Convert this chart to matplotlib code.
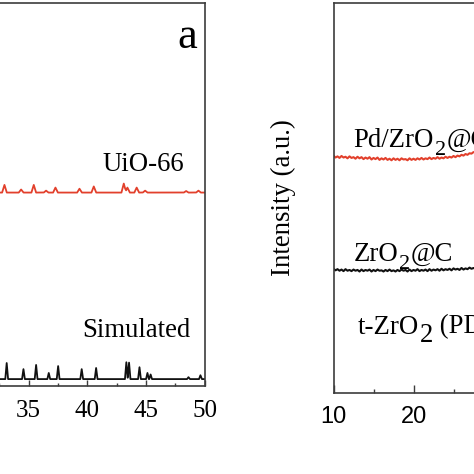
import numpy as np
import matplotlib
matplotlib.use('Agg')
import matplotlib.pyplot as plt
import matplotlib.transforms as mtransforms
from matplotlib.ticker import MultipleLocator

plt.rcParams['font.family'] = ['Liberation Serif', 'DejaVu Serif']
plt.rcParams['mathtext.fontset'] = 'custom'
plt.rcParams['mathtext.rm'] = 'Liberation Serif'
plt.rcParams['mathtext.it'] = 'Liberation Serif:italic'
plt.rcParams['mathtext.default'] = 'regular'

# ---------------- data ----------------
# panel a: peak positions (2theta, deg) and heights (a.u.)
sim_peaks = [33.12, 34.55, 35.63, 36.71, 37.51, 39.52, 40.75, 43.33, 43.56,
             44.45, 45.13, 45.40, 48.63, 49.65]
sim_heights = [4.2, 2.6, 3.7, 1.6, 3.4, 2.6, 2.9, 4.4, 4.3, 3.1, 1.6, 1.2, 0.5, 1.0]
sim_base = 1.8

uio_peaks = [32.93, 34.35, 35.43, 36.48, 37.28, 39.33, 40.55, 43.11, 43.42,
             44.21, 44.93, 48.43, 49.48]
uio_heights = [2.0, 0.8, 2.0, 0.5, 1.3, 1.0, 1.6, 2.35, 1.3, 1.3, 0.5, 0.4, 0.5]
uio_base = 50.5

# panel b: measured traces, 0.25 deg steps from 10 deg
b_start, b_step = 10.0, 0.25
pd_zro2_c = [60.9, 60.4, 60.7, 60.3, 60.8, 60.4, 60.6, 60.2, 60.7, 60.3,
             60.5, 60.1, 60.6, 60.2, 60.5, 60.0, 60.4, 60.1, 60.5, 59.9,
             60.3, 60.0, 60.4, 59.8, 60.2, 59.9, 60.3, 59.8, 60.1, 59.7,
             60.2, 59.8, 60.1, 59.7, 60.2, 59.9, 60.0, 59.7, 60.2, 59.8,
             60.1, 59.8, 60.2, 59.9, 60.3, 59.9, 60.2, 60.0, 60.4, 60.0,
             60.3, 60.1, 60.5, 60.1, 60.4, 60.2, 60.6, 60.3, 60.6, 60.4,
             60.8, 60.5, 60.9, 60.7, 61.1, 60.9, 61.3, 61.1, 61.5, 61.4,
             61.8, 61.7, 62.1, 62.1, 62.6]
zro2_c = [31.9, 31.5, 31.8, 31.4, 31.7, 31.3, 31.8, 31.4, 31.6, 31.3,
          31.7, 31.4, 31.6, 31.2, 31.7, 31.3, 31.6, 31.4, 31.7, 31.2,
          31.6, 31.3, 31.7, 31.4, 31.5, 31.2, 31.6, 31.3, 31.7, 31.3,
          31.5, 31.2, 31.6, 31.3, 31.7, 31.4, 31.6, 31.2, 31.7, 31.3,
          31.6, 31.4, 31.8, 31.3, 31.6, 31.4, 31.7, 31.3, 31.8, 31.4,
          31.7, 31.5, 31.8, 31.4, 31.9, 31.5, 31.8, 31.6, 31.9, 31.5,
          32.0, 31.7, 31.9, 31.6, 32.1, 31.7, 32.0, 31.8, 32.2, 31.9,
          32.1, 31.9, 32.3, 32.0, 32.4]

RED = '#e2402c'
BLACK = '#111111'
SPINE = '#3c3c3c'


def stick_pattern(peaks, heights, base, width, lo=30.0, hi=50.0):
    x = np.arange(lo, hi + 0.005, 0.01)
    y = np.full_like(x, base)
    for p, h in zip(peaks, heights):
        y += h * np.clip(1 - np.abs(x - p) / width, 0, None)
    return x, y


fig = plt.figure(figsize=(4.74, 4.74), dpi=100)
ident = mtransforms.IdentityTransform()


def chain_text(ax, xy, pieces):
    """Draw text pieces (string, fontsize, dy_pixels) one after another."""
    x, y = ax.transData.transform(xy)
    for s, size, dy in pieces:
        t = fig.text(x, y + dy, s, fontsize=size, ha='left', va='baseline',
                     transform=ident)
        fig.canvas.draw()
        x = t.get_window_extent().x1 + 0.5


# ---------------- panel a ----------------
ax1 = fig.add_axes([-0.6812, 0.1857, 1.1127, 0.8080])
xs, ys = stick_pattern(sim_peaks, sim_heights, sim_base, 0.12)
ax1.plot(xs, ys, color=BLACK, lw=1.3)
xu, yu = stick_pattern(uio_peaks, uio_heights, uio_base, 0.2)
ax1.plot(xu, yu, color=RED, lw=1.3)
ax1.set_xlim(5, 50)
ax1.set_ylim(0, 100)
ax1.set_yticks([])
ax1.xaxis.set_major_locator(MultipleLocator(5))
ax1.xaxis.set_minor_locator(MultipleLocator(2.5))
ax1.tick_params(axis='x', which='major', direction='in', length=4.3, width=1.0,
                labelsize=18, pad=10, color=SPINE)
ax1.tick_params(axis='x', which='minor', direction='in', length=2.4, width=1.0,
                color=SPINE)
for s in ax1.spines.values():
    s.set_color(SPINE)
    s.set_linewidth(1.2)
ax1.text(41.29, 56.2, 'UiO-66', fontsize=19.3, ha='left', va='baseline')
ax1.text(39.58, 12.8, 'Simulated', fontsize=19.3, ha='left', va='baseline')
ax1.text(48.5, 88.3, 'a', fontsize=32, ha='center', va='baseline')

# ---------------- panel b ----------------
ax2 = fig.add_axes([0.7036, 0.1703, 1.1814, 0.8234])
xb = b_start + b_step * np.arange(len(pd_zro2_c))
ax2.plot(xb, pd_zro2_c, color=RED, lw=1.5)
xb2 = b_start + b_step * np.arange(len(zro2_c))
ax2.plot(xb2, zro2_c, color=BLACK, lw=1.5)
ax2.set_xlim(10, 80)
ax2.set_ylim(0, 100)
ax2.set_yticks([])
ax2.xaxis.set_major_locator(MultipleLocator(10))
ax2.xaxis.set_minor_locator(MultipleLocator(5))
ax2.tick_params(axis='x', which='major', direction='in', length=5.8, width=1.0,
                labelsize=17, pad=9.5, color=SPINE)
ax2.tick_params(axis='x', which='minor', direction='in', length=2.9, width=1.0,
                color=SPINE)
for lab in ax2.get_xticklabels():
    lab.set_family(['Liberation Sans', 'DejaVu Sans'])
for s in ax2.spines.values():
    s.set_color(SPINE)
    s.set_linewidth(1.2)

fig.canvas.draw()
chain_text(ax2, (12.53, 63.1), [('Pd/ZrO', 19.3, 0), ('2', 16, -8), ('@C', 19.3, 0)])
chain_text(ax2, (12.53, 33.9), [('ZrO', 19.3, 0), ('2', 16, -8), ('@C', 19.3, 0)])
chain_text(ax2, (13.03, 15.3), [('t-ZrO', 19.3, 0), ('2', 19.3, -8),
                                (' (PDF#50-1089)', 19.3, 0)])

fig.text(283 / 474, 1 - 198 / 474, 'Intensity (a.u.)', rotation=90,
         fontsize=19.3, ha='center', va='center')

fig.savefig('out.png', dpi=100)
